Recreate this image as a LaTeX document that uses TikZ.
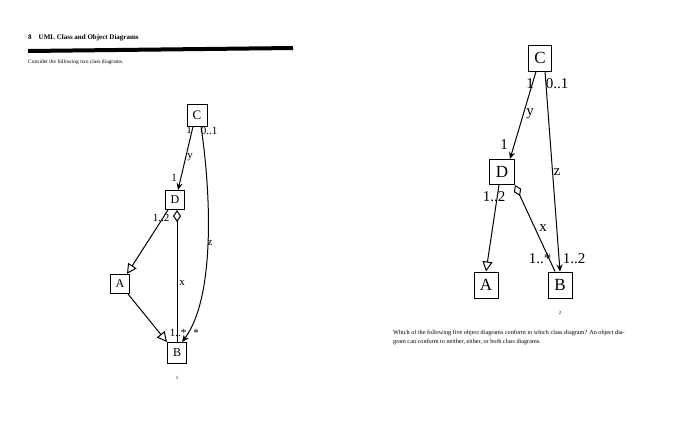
\documentclass[tikz,border=0pt]{standalone}
\usepackage{fontspec}
\setmainfont{Liberation Serif}
\usetikzlibrary{arrows.meta}
\begin{document}
\begin{tikzpicture}[x=1pt,y=-1pt,
  cls/.style={draw,line width=1pt,inner sep=0pt},
  lbl/.style={inner sep=0pt,font=\fontsize{11}{11}\selectfont},
  rlbl/.style={inner sep=0pt,font=\fontsize{15}{15}\selectfont},
  edge/.style={line width=1pt},
  nav/.style={edge,-{Stealth[length=7pt,width=6pt]}},
  inh/.style={edge,-{Triangle[open,length=10pt,width=10pt]}},
  agg/.style={edge,{Diamond[open,length=12pt,width=8pt]}-}]
\useasboundingbox (0,0) rectangle (700,445);
\fill[white] (0,0) rectangle (700,445);
% page 1 header
\node[anchor=west,inner sep=0pt,font=\bfseries\fontsize{7}{7}\selectfont] (hd) at (28,38) {8\quad UML Class and Object Diagrams};
\coordinate (l1) at (28,51); \coordinate (l2) at (293,48);
\draw[line width=4pt] (l1) -- (l2);
\node[anchor=west,inner sep=0pt,font=\fontsize{5.5}{6}\selectfont] (cons) at (28,62) {Consider the following two class diagrams.};
% diagram 1
\node[cls,minimum width=20pt,minimum height=22pt,font=\fontsize{13}{13}\selectfont] (C1) at (197,115) {C};
\node[cls,minimum width=19pt,minimum height=19pt,font=\fontsize{12}{12}\selectfont] (D1) at (175,200) {D};
\node[cls,minimum width=19pt,minimum height=19pt,font=\fontsize{12}{12}\selectfont] (A1) at (120,284) {A};
\node[cls,minimum width=19pt,minimum height=21pt,font=\fontsize{12}{12}\selectfont] (B1) at (177,353) {B};
\draw[nav] ([xshift=-4pt]C1.south) -- ([xshift=3pt]D1.north);
\draw[inh] ([xshift=-7pt]D1.south) -- ([xshift=7pt]A1.north);
\draw[inh] ([xshift=8pt]A1.south) -- (B1.north west);
\draw[agg] ([xshift=2pt]D1.south) -- ([xshift=0pt]B1.north);
\draw[nav] ([xshift=4pt]C1.south) .. controls (212,200) and (214,300) .. ([xshift=5pt]B1.north);
\node[lbl] (c1a) at (189,130) {1};
\node[lbl] (c1b) at (209,131) {0..1};
\node[lbl] (y1) at (190,157) {y};
\node[lbl] (d1a) at (174,178) {1};
\node[lbl] (d1b) at (161,218) {1..2};
\node[lbl] (x1) at (182,283) {x};
\node[lbl] (z1) at (210,243) {z};
\node[lbl] (b1a) at (178,333) {1..*};
\node[lbl] (b1b) at (196,333) {*};
\node[inner sep=0pt,font=\fontsize{5}{5}\selectfont] (p1) at (177,378) {1};
% diagram 2
\node[cls,minimum width=23pt,minimum height=26pt,font=\fontsize{17}{17}\selectfont] (C2) at (540,58) {C};
\node[cls,minimum width=25pt,minimum height=25pt,font=\fontsize{17}{17}\selectfont] (D2) at (502,172) {D};
\node[cls,minimum width=24pt,minimum height=26pt,font=\fontsize{17}{17}\selectfont] (A2) at (486,285) {A};
\node[cls,minimum width=24pt,minimum height=26pt,font=\fontsize{17}{17}\selectfont] (B2) at (560,285) {B};
\draw[nav] ([xshift=-4pt]C2.south) -- ([xshift=8pt]D2.north);
\draw[nav] ([xshift=5pt]C2.south) -- (B2.north);
\draw[inh] ([xshift=-3pt]D2.south) -- (A2.north);
\draw[agg] (D2.south east) -- ([xshift=-5pt]B2.north);
\node[rlbl] (c2a) at (530,84) {1};
\node[rlbl] (c2b) at (557,84) {0..1};
\node[rlbl] (y2) at (530,114) {y};
\node[rlbl] (d2a) at (504,145) {1};
\node[rlbl] (z2) at (557,172) {z};
\node[rlbl] (d2b) at (494,197) {1..2};
\node[rlbl] (x2) at (543,228) {x};
\node[rlbl] (b2a) at (540,259) {1..*};
\node[rlbl] (b2b) at (574,259) {1..2};
\node[inner sep=0pt,font=\fontsize{5}{5}\selectfont] (p2) at (560,313) {2};
\node[anchor=north west,inner sep=0pt,align=left,font=\fontsize{6.2}{8.5}\selectfont] (q) at (393,330) {Which of the following five object diagrams conform to which class diagram? An object dia-\\gram can conform to neither, either, or both class diagrams.};
\end{tikzpicture}
\end{document}
